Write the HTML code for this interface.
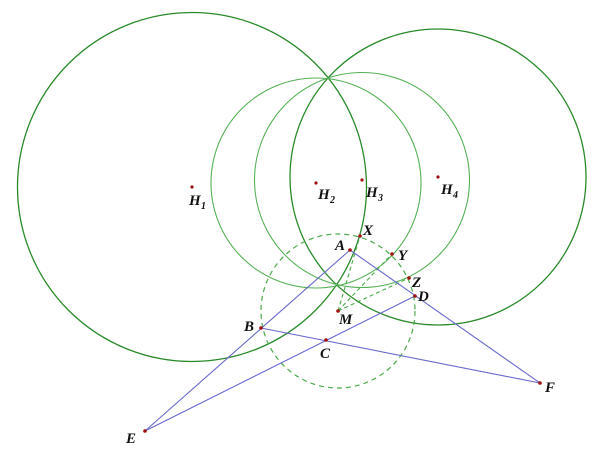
<!DOCTYPE html>
<html><head><style>body{margin:0;background:#fff}svg{display:block}
text{font-family:"Liberation Serif",serif;font-style:italic;font-weight:bold;font-size:15px;fill:#111}
.s{font-size:10px}</style></head><body>
<svg width="600" height="452" viewBox="0 0 600 452">
<g fill="none">
<circle cx="192" cy="187" r="174.5" stroke="#2a8a2a" stroke-width="1.3"/>
<circle cx="438" cy="177" r="148" stroke="#2a8a2a" stroke-width="1.3"/>
<circle cx="316" cy="183" r="105" stroke="#55b055" stroke-width="1.1"/>
<circle cx="362" cy="180" r="107.5" stroke="#55b055" stroke-width="1.1"/>
<circle cx="338" cy="311" r="77" stroke="#4aaa4a" stroke-width="1.2" stroke-dasharray="5,4"/>
<g stroke="#4aaa4a" stroke-width="1.1" stroke-dasharray="4,3">
<line x1="338" y1="311" x2="360" y2="236"/>
<line x1="338" y1="311" x2="392" y2="254"/>
<line x1="338" y1="311" x2="409" y2="278"/>
</g>
<g stroke="#6a6acc" stroke-width="1.1">
<line x1="350" y1="250" x2="145" y2="431"/>
<line x1="350" y1="250" x2="540" y2="383"/>
<line x1="261" y1="328" x2="540" y2="383"/>
<line x1="145" y1="431" x2="415" y2="296"/>
</g>
</g>
<g fill="#a01010">
<circle cx="192" cy="187" r="1.6"/><circle cx="316" cy="183" r="1.6"/><circle cx="362" cy="180" r="1.6"/><circle cx="438" cy="177" r="1.6"/>
<circle cx="360" cy="236" r="1.8"/><circle cx="350" cy="250" r="1.8"/><circle cx="392" cy="254" r="1.8"/><circle cx="409" cy="278" r="1.8"/><circle cx="415" cy="296" r="1.8"/><circle cx="338" cy="311" r="1.8"/><circle cx="261" cy="328" r="1.8"/><circle cx="326" cy="340" r="1.8"/><circle cx="145" cy="431" r="1.8"/><circle cx="540" cy="383" r="1.8"/>
</g>
<text x="189" y="205">H</text><text class="s" x="201" y="209">1</text>
<text x="318" y="199">H</text><text class="s" x="330" y="203">2</text>
<text x="366" y="197">H</text><text class="s" x="378" y="201">3</text>
<text x="441" y="194">H</text><text class="s" x="453" y="198">4</text>
<text x="363" y="235">X</text>
<text x="335" y="250">A</text>
<text x="398" y="260">Y</text>
<text x="412" y="287">Z</text>
<text x="418" y="301">D</text>
<text x="339" y="324">M</text>
<text x="244" y="331">B</text>
<text x="320" y="358">C</text>
<text x="126" y="443">E</text>
<text x="545" y="392">F</text>
</svg>
</body></html>
